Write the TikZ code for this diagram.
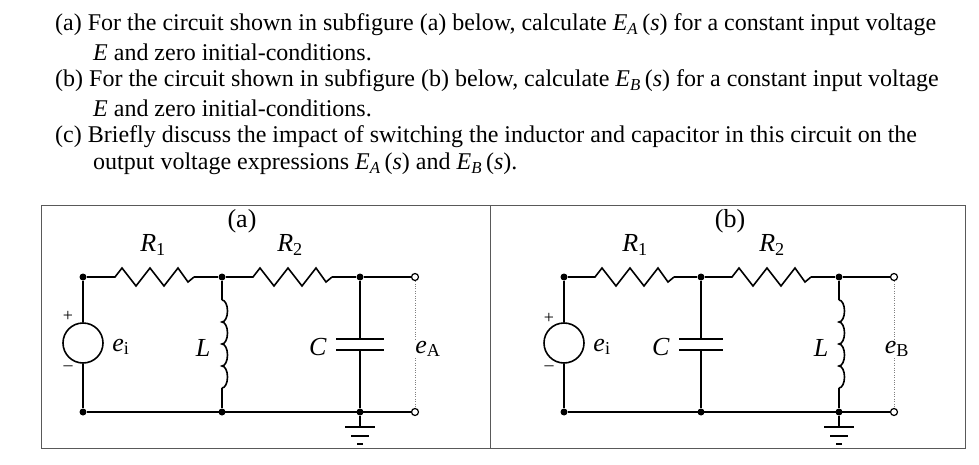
\documentclass[tikz,border=0pt]{standalone}
\usepackage{fontspec}
\setmainfont{Liberation Serif}
\newcommand{\vi}[2]{\textit{#1}\textsubscript{\textit{#2}}\,}
\newcommand{\vr}[2]{\textit{#1}\textsubscript{#2}}
\begin{document}
\begin{tikzpicture}[x=1pt,y=-1pt,
  w/.style={line width=1.6pt},
  dotn/.style={circle,fill=black,inner sep=0pt,minimum size=7pt},
  term/.style={circle,draw,fill=white,line width=1.2pt,inner sep=0pt,minimum size=7pt},
  lbl/.style={font=\fontsize{26}{28}\selectfont,inner sep=1pt},
  pm/.style={font=\fontsize{18}{20}\selectfont,inner sep=0pt},
  txt/.style={font=\fontsize{24}{26}\selectfont,anchor=west,inner sep=0pt}]
\useasboundingbox (0,0) rectangle (979,465);
% text
\node[txt] (t1) at (55,25) {(a) For the circuit shown in subfigure (a) below, calculate \vi{E}{A}(\textit{s}) for a constant input voltage};
\node[txt] (t2) at (93,52) {\textit{E} and zero initial-conditions.};
\node[txt] (t3) at (55,81) {(b) For the circuit shown in subfigure (b) below, calculate \vi{E}{B}(\textit{s}) for a constant input voltage};
\node[txt] (t4) at (93,108) {\textit{E} and zero initial-conditions.};
\node[txt] (t5) at (55,137) {(c) Briefly discuss the impact of switching the inductor and capacitor in this circuit on the};
\node[txt] (t6) at (93,164) {output voltage expressions \vi{E}{A}(\textit{s}) and \vi{E}{B}(\textit{s}).};
% boxes
\draw[line width=0.8pt,gray!70!black] (41,205) rectangle (965,448) (490,205) -- (490,448);
\tikzset{
 res/.pic={\draw[w] (0,0) -- (5,0) -- (12,-9) -- (26,9) -- (40,-9) -- (54,9) -- (68,-9) -- (78,5) -- (84,0);},
 ind/.pic={\draw[w] (0,0) arc(-90:90:5.5 and 11) arc(-90:90:5.5 and 11) arc(-90:90:5.5 and 11) arc(-90:90:5.5 and 11);},
 gnd/.pic={\draw[w] (-15,0)--(15,0) (-9,9)--(9,9); \draw[w] (-3,17)--(3,17);}
}
% ===== circuit (a) =====
\node[dotn] (a1) at (83,277) {}; \node[dotn] (a2) at (83,412) {};
\node[dotn] (a3) at (222,277) {}; \node[dotn] (a4) at (222,412) {};
\node[dotn] (a5) at (360,277) {}; \node[dotn] (a6) at (360,412) {};
\node[term] (a7) at (415,277) {}; \node[term] (a8) at (415,412) {};
\node[circle,draw,line width=1.6pt,minimum size=40pt,inner sep=0pt] (aS) at (83,343) {};
\draw[w] (a1) -- (aS) -- (a2);
\draw[w] (a1) -- (110,277); \pic at (110,277) {res}; \draw[w] (194,277) -- (a3);
\draw[w] (a3) -- (248,277); \pic at (248,277) {res}; \draw[w] (332,277) -- (a5);
\draw[w] (a5) -- (a7); \draw[w] (a2) -- (a8);
\draw[w] (a3) -- (222,300); \pic at (222,300) {ind}; \draw[w] (222,388) -- (a4);
\draw[w] (a5) -- (360,339) (a6) -- (360,350);
\draw[w] (336,339) -- (384,339) (336,350) -- (384,350);
\draw[w] (a6) -- (360,427); \pic at (360,427) {gnd};
\draw[dotted,gray] (a7) -- (a8);
\node[lbl] (aT) at (242,221) {(a)};
\node[lbl] (aR1) at (153,245) {\vr{R}{1}};
\node[lbl] (aR2) at (290,245) {\vr{R}{2}};
\node[lbl] (aE) at (121,347) {\vr{e}{i}};
\node[lbl] (aL) at (203,348) {\textit{L}};
\node[lbl] (aC) at (318,347) {\textit{C}};
\node[lbl,fill=white] (aO) at (428,349) {\vr{e}{A}};
\node[pm] (ap) at (68,316) {+};
\node[pm] (am) at (68,368) {\textendash};
% ===== circuit (b) =====
\node[dotn] (b1) at (564,277) {}; \node[dotn] (b2) at (564,412) {};
\node[dotn] (b3) at (701,277) {}; \node[dotn] (b4) at (701,412) {};
\node[dotn] (b5) at (839,277) {}; \node[dotn] (b6) at (839,412) {};
\node[term] (b7) at (894,277) {}; \node[term] (b8) at (894,412) {};
\node[circle,draw,line width=1.6pt,minimum size=40pt,inner sep=0pt] (bS) at (564,343) {};
\draw[w] (b1) -- (bS) -- (b2);
\draw[w] (b1) -- (590,277); \pic at (590,277) {res}; \draw[w] (674,277) -- (b3);
\draw[w] (b3) -- (727,277); \pic at (727,277) {res}; \draw[w] (811,277) -- (b5);
\draw[w] (b5) -- (b7); \draw[w] (b2) -- (b8);
\draw[w] (b3) -- (701,339) (b4) -- (701,350);
\draw[w] (679,339) -- (723,339) (679,350) -- (723,350);
\draw[w] (b5) -- (839,300); \pic at (839,300) {ind}; \draw[w] (839,388) -- (b6);
\draw[w] (b6) -- (839,427); \pic at (839,427) {gnd};
\draw[dotted,gray] (b7) -- (b8);
\node[lbl] (bT) at (730,221) {(b)};
\node[lbl] (bR1) at (635,245) {\vr{R}{1}};
\node[lbl] (bR2) at (772,245) {\vr{R}{2}};
\node[lbl] (bE) at (602,347) {\vr{e}{i}};
\node[lbl] (bC) at (661,347) {\textit{C}};
\node[lbl] (bL) at (821,348) {\textit{L}};
\node[lbl,fill=white] (bO) at (897,349) {\vr{e}{B}};
\node[pm] (bp) at (549,318) {+};
\node[pm] (bm) at (549,368) {\textendash};
\end{tikzpicture}
\end{document}
